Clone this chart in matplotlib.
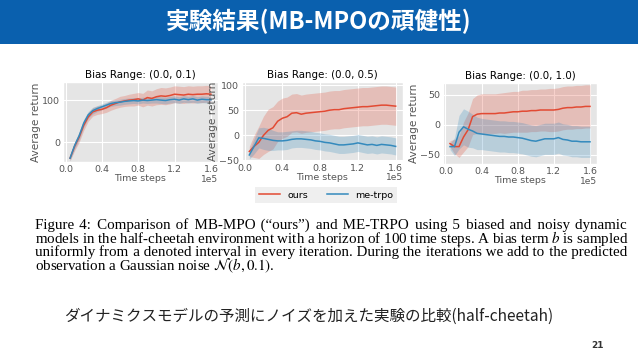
import matplotlib
matplotlib.use("Agg")
import matplotlib.pyplot as plt
from matplotlib.patches import Rectangle
from matplotlib.ticker import MultipleLocator, FuncFormatter

plt.style.use("ggplot")
plt.rcParams["mathtext.fontset"] = "stix"

# time steps (x1e5)
steps = [0.05, 0.10, 0.15, 0.20, 0.25, 0.30, 0.35, 0.40, 0.45, 0.50, 0.55, 0.60,
         0.65, 0.70, 0.75, 0.80, 0.85, 0.90, 0.95, 1.00, 1.05, 1.10, 1.15, 1.20,
         1.25, 1.30, 1.35, 1.40, 1.45, 1.50, 1.55, 1.60]

# Bias Range (0.0, 0.1)
ours_01 = [-38, -10, 12, 40, 60, 72, 76, 78, 82, 88, 92, 96, 98, 100, 101, 103,
           100, 106, 104, 108, 110, 109, 111, 114, 113, 112, 114, 113, 114, 114, 115, 114]
ours_01_std = [6, 10, 12, 12, 10, 10, 10, 10, 11, 12, 12, 13, 13, 14, 15, 15,
               16, 18, 18, 19, 20, 20, 20, 20, 20, 20, 20, 20, 20, 20, 20, 20]
metrpo_01 = [-38, -8, 15, 45, 65, 75, 80, 84, 88, 92, 94, 95, 97, 98, 99, 98,
             100, 99, 100, 101, 100, 99, 101, 102, 100, 103, 101, 103, 100, 102, 101, 101]
metrpo_01_std = [6, 8, 9, 9, 8, 8, 7, 7, 7, 7, 7, 7, 7, 7, 7, 7,
                 7, 7, 7, 8, 8, 8, 8, 8, 8, 8, 8, 8, 8, 8, 8, 8]

# Bias Range (0.0, 0.5)
ours_05 = [-32, -22, -14, 0, 10, 15, 28, 34, 37, 44, 45, 42, 44, 45, 46, 47,
           48, 50, 51, 51, 53, 54, 55, 56, 57, 57, 58, 59, 60, 60, 59, 58]
ours_05_std = [10, 22, 32, 38, 42, 42, 40, 40, 39, 38, 38, 38, 38, 38, 38, 38,
               38, 38, 38, 38, 38, 38, 38, 38, 38, 38, 38, 38, 38, 38, 38, 38]
metrpo_05 = [-39, -22, -5, -6, -8, -10, -11, -11, -10, -8, -7, -7, -8, -9, -11, -12,
             -14, -15, -17, -19, -19, -18, -17, -15, -17, -19, -18, -20, -18, -19, -20, -22]
metrpo_05_std = [8, 15, 20, 22, 22, 20, 18, 18, 18, 17, 17, 17, 17, 17, 17, 17,
                 17, 17, 17, 17, 17, 17, 17, 17, 17, 17, 17, 17, 17, 17, 17, 17]

# Bias Range (0.0, 1.0)
ours_10 = [-31, -36, -36, -20, -8, 14, 18, 19, 19, 19, 19, 20, 20, 21, 22, 22,
           23, 23, 24, 24, 25, 25, 25, 25, 26, 28, 29, 29, 30, 30, 31, 31]
ours_10_std = [5, 12, 18, 25, 28, 30, 32, 33, 33, 33, 33, 33, 34, 34, 34, 34,
               35, 35, 35, 35, 35, 35, 36, 36, 36, 36, 36, 36, 36, 36, 36, 36]
metrpo_10 = [-36, -36, -12, -3, -7, -10, -14, -15, -16, -17, -18, -19, -19, -20, -20, -21,
             -22, -24, -26, -27, -25, -23, -23, -23, -21, -24, -25, -27, -27, -28, -28, -28]
metrpo_10_std = [5, 15, 28, 30, 30, 28, 27, 26, 26, 26, 26, 26, 26, 26, 26, 26,
                 26, 26, 26, 26, 26, 26, 26, 26, 26, 26, 26, 26, 26, 26, 26, 26]

panels = [
    ("Bias Range: (0.0, 0.1)", ours_01, ours_01_std, metrpo_01, metrpo_01_std),
    ("Bias Range: (0.0, 0.5)", ours_05, ours_05_std, metrpo_05, metrpo_05_std),
    ("Bias Range: (0.0, 1.0)", ours_10, ours_10_std, metrpo_10, metrpo_10_std),
]
ylims = [(-47, 143), (-51, 106), (-65, 70)]
ysteps = [100, 50, 50]
# axes boxes in pixels: left, top, right, bottom
boxes = [(63, 82, 218, 162), (242, 82, 403, 161), (443, 83, 597, 164)]

W, H = 638, 359
fig = plt.figure(figsize=(W / 100, H / 100), dpi=100)
fig.add_artist(Rectangle((0, 1 - 44 / H), 1, 44 / H, transform=fig.transFigure,
                         facecolor="#0a60ae", edgecolor="none", zorder=0))
fig.text(0.5, 1 - 21 / H, "実験結果(MB-MPOの頑健性)", color="white", fontsize=17,
         fontweight="bold", ha="center", va="center",
         family=["Noto Sans CJK JP", "DejaVu Sans"])

x = [s * 1e5 for s in steps]
red, blue = "#E24A33", "#348ABD"
lines = []
for i, (title, o, os_, m, ms) in enumerate(panels):
    l, t, r, b = boxes[i]
    ax = fig.add_axes([l / W, 1 - b / H, (r - l) / W, (b - t) / H])
    lo = [a - s for a, s in zip(o, os_)]
    hi = [a + s for a, s in zip(o, os_)]
    ax.fill_between(x, lo, hi, color=red, alpha=0.25, lw=0)
    lo = [a - s for a, s in zip(m, ms)]
    hi = [a + s for a, s in zip(m, ms)]
    ax.fill_between(x, lo, hi, color=blue, alpha=0.25, lw=0)
    l1, = ax.plot(x, o, color=red, lw=1.1, label="ours")
    l2, = ax.plot(x, m, color=blue, lw=1.1, label="me-trpo")
    lines = [l1, l2]
    ax.set_ylim(*ylims[i])
    ax.yaxis.set_major_locator(MultipleLocator(ysteps[i]))
    ax.xaxis.set_major_locator(MultipleLocator(40000))
    ax.xaxis.set_major_formatter(FuncFormatter(lambda v, p: f"{v / 1e5:.1f}"))
    ax.tick_params(labelsize=6.8, length=0, pad=2)
    ax.set_title(title, fontsize=7.4, pad=3)
    ax.set_xlabel("Time steps", fontsize=6.8, labelpad=0)
    ax.set_ylabel("Average return", fontsize=7.6, labelpad=1)
    ax.text(1.0, -0.215, "1e5", transform=ax.transAxes, ha="right", va="center",
            fontsize=6.6, color="#555555")

fig.legend(lines, ["ours", "me-trpo"], loc="center", ncol=2,
           bbox_to_anchor=(326 / W, 1 - 195 / H), fontsize=6.8, frameon=True,
           facecolor="#ececec", edgecolor="none", handlelength=2.2,
           columnspacing=2.0, borderpad=0.4, fancybox=False)

# caption, justified by padding the word gaps with spaces
caption = [
    "Figure 4:  Comparison of MB-MPO (“ours”) and ME-TRPO using 5 biased and noisy dynamic",
    "models in the half-cheetah environment with a horizon of 100 time steps.  A bias term $b$ is sampled",
    "uniformly from a denoted interval in every iteration.  During the iterations we add to the predicted",
]
last_line = r"observation a Gaussian noise $\mathcal{N}(b, 0.1)$."
baselines = [228.7, 242.5, 256.3, 270]
FS = 10.8
SERIF = ["Liberation Serif", "DejaVu Serif"]
x0, x1 = 35, 627
renderer = fig.canvas.get_renderer()


def text_width(s):
    t = fig.text(0, 0, s, fontsize=FS, family=SERIF)
    w = t.get_window_extent(renderer).width
    t.remove()
    return w


space_w = (text_width("x" + " " * 20 + "x") - text_width("xx")) / 20
hair_w = (text_width("x" + "\u200a" * 20 + "x") - text_width("xx")) / 20
for line, yb in zip(caption, baselines):
    words = line.split()
    total = sum(text_width(w) for w in words)
    gaps = len(words) - 1
    g = (x1 - x0 - total) / gaps
    use_hair = "$" not in line and hair_w > 0.3
    s = words[0]
    done = 0.0
    for i in range(gaps):
        need = (i + 1) * g - done
        n = max(1, int(need // space_w))
        rest = need - n * space_w
        h = max(0, round(rest / hair_w)) if use_hair else 0
        if not use_hair and rest > space_w / 2:
            n += 1
        done += n * space_w + h * hair_w
        s += " " * n + "\u200a" * h + words[i + 1]
    fig.text(x0 / W, 1 - yb / H, s, fontsize=FS, family=SERIF,
             va="baseline", ha="left")
fig.text(x0 / W, 1 - baselines[3] / H, last_line, fontsize=FS,
         family=SERIF, va="baseline", ha="left")

fig.text(64 / W, 1 - 316 / H, "ダイナミクスモデルの予測にノイズを加えた実験の比較(half-cheetah)",
         fontsize=11.2, va="center", color="#222222",
         family=["Noto Sans CJK JP", "DejaVu Sans"])
fig.text(597 / W, 1 - 345 / H, "21", fontsize=6.5, ha="center", va="center",
         color="#333333", fontweight="bold")

fig.savefig("out.png", dpi=100)
